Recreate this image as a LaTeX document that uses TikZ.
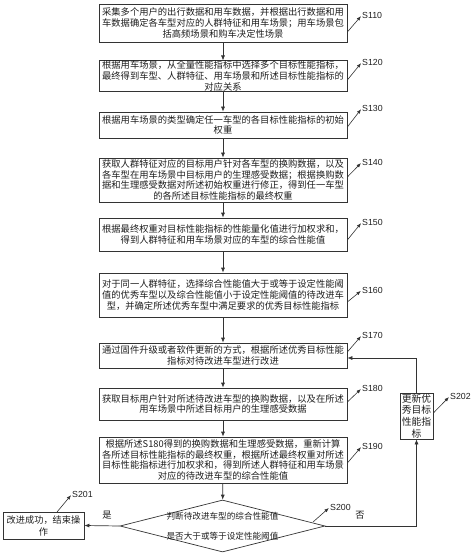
\documentclass[tikz,border=0pt]{standalone}
\usepackage{fontspec}
\setmainfont{Noto Sans CJK SC}
\newfontfamily\latinsf{Liberation Sans}
\usetikzlibrary{arrows.meta,shapes.geometric,calc}
\definecolor{ln}{HTML}{333333}
\definecolor{tx}{HTML}{1E1E1E}
\begin{document}
\begin{tikzpicture}[x=1pt,y=-1pt,
  stepbox/.style={draw=ln, line width=0.7pt, minimum width=248pt, inner sep=0pt,
    align=center, text=tx, font=\fontsize{9.3}{10.8}\selectfont},
  flow/.style={draw=ln, line width=0.7pt, -{Latex[length=5pt,width=4pt]}},
  lbl/.style={font=\latinsf\fontsize{8.8}{10}\selectfont, anchor=west, inner sep=0pt, text=tx},
  lblarrow/.style={draw=ln, line width=0.6pt, -{Latex[length=4.5pt,width=3.5pt]}, shorten >=1.5pt},
  plain/.style={inner sep=0pt, text=tx, font=\fontsize{9.3}{11}\selectfont}]
\useasboundingbox (0,0) rectangle (474,556);

\node[stepbox, minimum height=38pt] (b1) at (223,23) {采集多个用户的出行数据和用车数据，并根据出行数据和用\\车数据确定各车型对应的人群特征和用车场景；用车场景包\\括高频场景和购车决定性场景};
\node[stepbox, minimum height=30pt] (b2) at (223,76) {根据用车场景，从全量性能指标中选择多个目标性能指标，\\最终得到车型、人群特征、用车场景和所述目标性能指标的\\对应关系};
\node[stepbox, minimum height=26pt] (b3) at (223,125) {根据用车场景的类型确定任一车型的各目标性能指标的初始\\权重};
\node[stepbox, minimum height=44pt] (b4) at (223,180) {获取人群特征对应的目标用户针对各车型的换购数据，以及\\各车型在用车场景中目标用户的生理感受数据；根据换购数\\据和生理感受数据对所述初始权重进行修正，得到任一车型\\的各所述目标性能指标的最终权重};
\node[stepbox, minimum height=33pt] (b5) at (223,234.5) {根据最终权重对目标性能指标的性能量化值进行加权求和，\\得到人群特征和用车场景对应的车型的综合性能值};
\node[stepbox, minimum height=44pt] (b6) at (223,295) {对于同一人群特征，选择综合性能值大于或等于设定性能阈\\值的优秀车型以及综合性能值小于设定性能阈值的待改进车\\型，并确定所述优秀车型中满足要求的优秀目标性能指标};
\node[stepbox, minimum height=25pt] (b7) at (223,355.5) {通过固件升级或者软件更新的方式，根据所述优秀目标性能\\指标对待改进车型进行改进};
\node[stepbox, minimum height=32pt] (b8) at (223,404) {获取目标用户针对所述待改进车型的换购数据，以及在所述\\用车场景中所述目标用户的生理感受数据};
\node[stepbox, minimum height=46pt] (b9) at (223,460) {根据所述S180得到的换购数据和生理感受数据，重新计算\\各所述目标性能指标的最终权重，根据所述最终权重对所述\\目标性能指标进行加权求和，得到所述人群特征和用车场景\\对应的待改进车型的综合性能值};

\node[draw=ln, line width=0.7pt, shape=diamond, minimum width=205pt, minimum height=52pt, inner sep=0pt] (d) at (222.5,526) {};
\node[plain, align=center, font=\fontsize{8.6}{20}\selectfont] (dt) at (d.center) {判断待改进车型的综合性能值\\是否大于或等于设定性能阈值};

\node[draw=ln, line width=0.7pt, minimum width=81pt, minimum height=27pt, inner sep=0pt, align=center, text=tx, font=\fontsize{9.2}{12}\selectfont] (s201) at (43.5,525.5) {改进成功，结束操\\作};
\node[draw=ln, line width=0.7pt, minimum width=33pt, minimum height=46pt, inner sep=0pt, align=center, text=tx, font=\fontsize{9.8}{11.7}\selectfont] (upd) at (416.5,416) {更新优\\秀目标\\性能指\\标};

% main flow
\draw[flow] (b1) -- (b2);
\draw[flow] (b2) -- (b3);
\draw[flow] (b3) -- (b4);
\draw[flow] (b4) -- (b5);
\draw[flow] (b5) -- (b6);
\draw[flow] (b6) -- (b7);
\draw[flow] (b7) -- (b8);
\draw[flow] (b8) -- (b9);
\draw[flow] (b9) -- (d);
\draw[flow] (d.west) -- (s201.east);
\draw[flow] (d.east) -| (upd.south);
\coordinate (fb) at (416.5,358);
\draw[flow] (upd.north) -- (fb) -- (b7.east |- fb);

\node[plain] (yes) at (107,515) {是};
\node[plain] (no) at (360,515) {否};

% step labels
\node[lbl] (l1) at (362,15) {S110};
\node[lbl] (l2) at (362,62) {S120};
\node[lbl] (l3) at (362,108) {S130};
\node[lbl] (l4) at (362,162) {S140};
\node[lbl] (l5) at (362,222) {S150};
\node[lbl] (l6) at (362,290) {S160};
\node[lbl] (l7) at (362,335) {S170};
\node[lbl] (l8) at (362,388) {S180};
\node[lbl] (l9) at (362,446) {S190};
\node[lbl] (l10) at (330,507) {S200};
\node[lbl] (l11) at (72,494) {S201};
\node[lbl] (l12) at (450,396) {S202};

\draw[lblarrow] (b1.east |- 0,32) -- (l1.west);
\draw[lblarrow] (b2.east |- 0,80) -- (l2.west);
\draw[lblarrow] (b3.east |- 0,127) -- (l3.west);
\draw[lblarrow] (b4.east |- 0,177) -- (l4.west);
\draw[lblarrow] (b5.east |- 0,240) -- (l5.west);
\draw[lblarrow] (b6.east |- 0,302) -- (l6.west);
\draw[lblarrow] (b7.east |- 0,352) -- (l7.west);
\draw[lblarrow] (b8.east |- 0,402) -- (l8.west);
\draw[lblarrow] (b9.east |- 0,463) -- (l9.west);
\coordinate (c10) at (313,522);
\draw[lblarrow] (c10) -- (l10.west);
\coordinate (c11) at (57,512);
\draw[lblarrow] (c11) -- (l11.west);
\draw[lblarrow] (upd.east |- 0,413) -- (l12.west);
\end{tikzpicture}
\end{document}
